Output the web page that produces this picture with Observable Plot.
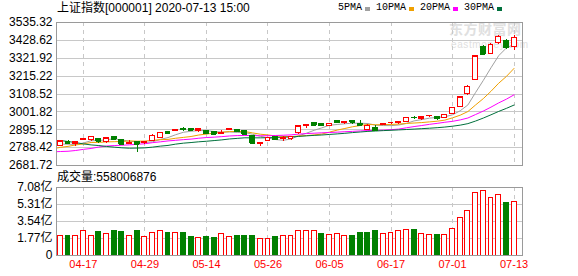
<!DOCTYPE html>
<html><head><meta charset="utf-8">
<script src="https://cdn.jsdelivr.net/npm/d3@7"></script>
<script src="https://cdn.jsdelivr.net/npm/@observablehq/plot@0.6"></script>
<style>
body{margin:0;background:#fff;}
#wrap{position:relative;width:578px;height:276px;overflow:hidden;background:#fff;}
.abs{position:absolute;white-space:nowrap;}
#title{left:57px;top:1px;font-size:12px;line-height:14px;color:#000;font-family:"Liberation Sans",Arial,"Noto Sans CJK SC",sans-serif;}
#legend{left:338px;top:2px;display:flex;align-items:center;font:10px/12px "Liberation Mono","DejaVu Sans Mono",monospace;color:#000;}
#legend .sw{display:inline-block;width:5px;height:4px;margin:0 6px 0 3px;position:relative;top:1px;}
#volcap{left:57px;top:170px;font-size:12px;line-height:14px;color:#000;font-family:"Liberation Sans",Arial,"Noto Sans CJK SC",sans-serif;}
#wm1{left:449px;top:21px;font:bold 14px/14px "Noto Sans CJK SC",sans-serif;color:#e0e0e0;letter-spacing:0.5px;}
#wm2{left:451px;top:40px;font:10px/10px "Liberation Sans",Arial,sans-serif;color:#e0e0e0;letter-spacing:0.6px;}
#top,#bot{position:absolute;left:0;}
#top{top:0;}
#bot{top:170px;}
</style></head>
<body>
<div id="wrap">
  <div class="abs" id="wm1">东方财富网</div>
  <div class="abs" id="wm2">eastmoney.com</div>
  <div id="top"></div>
  <div id="bot"></div>
  <div class="abs" id="title"></div>
  <div class="abs" id="legend"></div>
  <div class="abs" id="volcap"></div>
</div>
<script>
// ---- data ----
const titleText = "上证指数[000001] 2020-07-13 15:00";
const volumeCaption = "成交量:558006876";
const maLabels = ["5PMA", "10PMA", "20PMA", "30PMA"];
const maPeriods = [5, 10, 20, 30];
const maColors = ["#a0a0a0", "#f0a000", "#ff00ff", "#00703c"];

const dates = ["04-14","04-15","04-16","04-17","04-20","04-21","04-22","04-23","04-24","04-27",
"04-28","04-29","04-30","05-06","05-07","05-08","05-11","05-12","05-13","05-14",
"05-15","05-18","05-19","05-20","05-21","05-22","05-25","05-26","05-27","05-28",
"05-29","06-01","06-02","06-03","06-04","06-05","06-08","06-09","06-10","06-11",
"06-12","06-15","06-16","06-17","06-18","06-19","06-22","06-23","06-24","06-29",
"06-30","07-01","07-02","07-03","07-06","07-07","07-08","07-09","07-10","07-13"];

const opens = [2801,2824,2810,2836,2834,2840,2822,2849,2833,2812,
2820,2815,2830,2848,2880,2888,2899,2898,2888,2885,
2879,2870,2892,2895,2886,2858,2811,2827,2849,2840,
2840,2875,2915,2935,2927,2920,2947,2935,2946,2931,
2891,2908,2925,2934,2934,2942,2967,2960,2978,2969,
2965,2991,3030,3108,3195,3391,3346,3414,3426,3391];

const highs = [2828,2829,2822,2845,2853,2842,2845,2853,2835,2828,
2822,2823,2864,2879,2883,2898,2906,2902,2899,2888,
2885,2889,2903,2898,2892,2862,2820,2848,2852,2852,
2855,2917,2922,2939,2930,2932,2949,2945,2947,2950,
2926,2921,2935,2938,2946,2968,2973,2972,2983,2971,
2989,3026,3093,3157,3333,3396,3408,3456,3436,3458];

const lows = [2797,2806,2796,2830,2826,2814,2815,2834,2806,2807,
2761,2805,2828,2846,2868,2885,2887,2885,2880,2866,
2864,2866,2890,2881,2866,2808,2796,2826,2832,2825,
2833,2866,2904,2920,2912,2914,2930,2926,2926,2917,
2888,2890,2923,2926,2926,2942,2957,2953,2968,2950,
2965,2988,3030,3098,3187,3337,3345,3404,3376,3368];

const closes = [2827.28,2811.17,2819.94,2838.49,2852.55,2827.01,2843.98,2838.50,2808.53,2815.49,
2810.02,2822.44,2860.08,2878.14,2871.52,2895.34,2894.80,2891.56,2898.05,2870.34,
2868.46,2875.42,2898.58,2883.74,2867.92,2813.77,2817.97,2846.55,2836.80,2846.22,
2852.35,2915.43,2921.40,2923.37,2919.25,2930.80,2937.77,2943.75,2938.51,2920.90,
2919.74,2890.03,2931.75,2935.87,2939.32,2967.63,2965.27,2970.62,2979.55,2961.52,
2984.67,3025.98,3090.57,3152.81,3332.88,3345.34,3403.44,3450.59,3383.32,3443.29];

// closes of the 29 sessions before the first shown bar (needed for the moving averages)
const leadInCloses = [2992.90,3011.67,3071.68,3034.51,2943.29,3001.76,2968.52,2923.49,2887.43,2789.25,
2779.64,2728.76,2702.13,2745.62,2660.17,2722.44,2781.59,2764.91,2772.20,2747.21,
2750.30,2734.52,2780.64,2763.99,2820.76,2815.37,2825.90,2796.63,2783.05];

// volume in 亿
const volumes = [2.08,2.08,2.08,2.5,2.08,2.4,2.2,2.5,2.4,2.08,
2.6,1.97,2.35,2.5,2.3,2.3,2.3,1.97,1.87,1.97,
1.87,2.27,1.97,2.08,2.08,2.08,1.77,1.77,1.97,2.08,
2.08,2.57,2.57,2.57,2.29,2.15,2.25,2.08,2.08,2.36,
2.36,2.5,2.25,2.36,2.57,2.7,2.7,2.25,2.15,2.15,
2.15,2.81,3.92,4.68,6.53,6.67,6.0,6.32,5.5,5.58];

const priceTicks = [2681.72,2788.42,2895.12,3001.82,3108.52,3215.22,3321.92,3428.62,3535.32];
const volTicks = [0,1.77,3.54,5.31,7.08];
const tickDates = ["04-17","04-29","05-14","05-26","06-05","06-17","07-01","07-13"];

// ---- build ----
const RED = "#ff0000", GREEN = "#008000", GRID = "#c8c8c8", FRAME = "#9a9a9a";
const rows = dates.map((d, i) => ({
  i, date: d, open: opens[i], high: highs[i], low: lows[i], close: closes[i], vol: volumes[i],
  dir: closes[i] >= opens[i] ? "up" : "down",
  vdir: closes[i] >= (i ? closes[i - 1] : leadInCloses[leadInCloses.length - 1]) ? "up" : "down"
}));
const maRows = leadInCloses.map((c, j) => ({i: j - leadInCloses.length, close: c}))
  .concat(rows.map(r => ({i: r.i, close: r.close})));
const tickIdx = tickDates.map(d => dates.indexOf(d));
const hw = 0.32;
const font = "'Liberation Sans',Arial,'Noto Sans CJK SC',sans-serif";
const color = {domain: ["up", "down"], range: [RED, GREEN]};
const xScale = {type: "linear", domain: [-0.5, 60.1]};

const topPlot = Plot.plot({
  width: 578, height: 178, marginLeft: 56, marginRight: 56, marginTop: 22, marginBottom: 13,
  style: {background: "transparent", fontFamily: font, fontSize: "12px", color: "#000"},
  x: {...xScale, axis: null},
  y: {domain: [priceTicks[0], priceTicks[priceTicks.length - 1]], label: null},
  color,
  marks: [
    Plot.ruleY(priceTicks.slice(1, -1), {stroke: GRID, shapeRendering: "crispEdges"}),
    Plot.ruleX(tickIdx, {stroke: GRID, strokeDasharray: "4,4", shapeRendering: "crispEdges"}),
    ...maPeriods.map((k, j) => Plot.lineY(maRows, Plot.windowY({k, anchor: "end", reduce: "mean"},
      {x: "i", y: "close", stroke: maColors[j], strokeWidth: 1, clip: true}))),
    Plot.ruleX(rows, {x: "i", y1: "low", y2: "high", stroke: "dir", shapeRendering: "crispEdges"}),
    Plot.rect(rows, {filter: d => d.dir === "up", x1: d => d.i - hw, x2: d => d.i + hw, y1: "open", y2: "close",
      fill: "white", stroke: RED, shapeRendering: "crispEdges"}),
    Plot.rect(rows, {filter: d => d.dir === "down", x1: d => d.i - hw, x2: d => d.i + hw, y1: "open", y2: "close",
      fill: GREEN, stroke: GREEN, shapeRendering: "crispEdges"}),
    Plot.ruleY(rows, {x1: d => d.i - hw, x2: d => d.i + hw, y: "close", stroke: "dir", shapeRendering: "crispEdges"}),
    Plot.frame({stroke: FRAME, shapeRendering: "crispEdges"}),
    Plot.axisY(priceTicks, {label: null, tickSize: 0, tickPadding: 4, tickFormat: d => d.toFixed(2), fontSize: 12, fill: "#000"})
  ]
});
document.getElementById("top").appendChild(topPlot);

const botPlot = Plot.plot({
  width: 578, height: 106, marginLeft: 56, marginRight: 56, marginTop: 17, marginBottom: 21,
  style: {background: "transparent", fontFamily: font, fontSize: "12px", color: "#000"},
  x: {...xScale, label: null},
  y: {domain: [volTicks[0], volTicks[volTicks.length - 1]], label: null},
  color,
  marks: [
    Plot.ruleY(volTicks.slice(1, -1), {stroke: GRID, shapeRendering: "crispEdges"}),
    Plot.ruleX(tickIdx, {stroke: GRID, strokeDasharray: "4,4", shapeRendering: "crispEdges"}),
    Plot.rect(rows, {filter: d => d.vdir === "up", x1: d => d.i - hw, x2: d => d.i + hw, y1: 0, y2: "vol",
      fill: "white", stroke: RED, shapeRendering: "crispEdges"}),
    Plot.rect(rows, {filter: d => d.vdir === "down", x1: d => d.i - hw, x2: d => d.i + hw, y1: 0, y2: "vol",
      fill: GREEN, stroke: GREEN, shapeRendering: "crispEdges"}),
    Plot.frame({stroke: FRAME, shapeRendering: "crispEdges"}),
    Plot.axisY(volTicks, {label: null, tickSize: 0, tickPadding: 4, tickFormat: d => d === 0 ? "0" : d.toFixed(2) + "亿", fontSize: 12, fill: "#000"}),
    Plot.axisX(tickIdx, {label: null, tickSize: 0, tickPadding: 5, tickFormat: i => dates[i], fontSize: 11, fill: RED})
  ]
});
document.getElementById("bot").appendChild(botPlot);

document.getElementById("title").textContent = titleText;
document.getElementById("volcap").textContent = volumeCaption;
const leg = document.getElementById("legend");
maLabels.forEach((lab, j) => {
  const t = document.createElement("span"); t.textContent = lab; leg.appendChild(t);
  const s = document.createElement("span"); s.className = "sw"; s.style.background = maColors[j]; leg.appendChild(s);
});
</script>
</body></html>
